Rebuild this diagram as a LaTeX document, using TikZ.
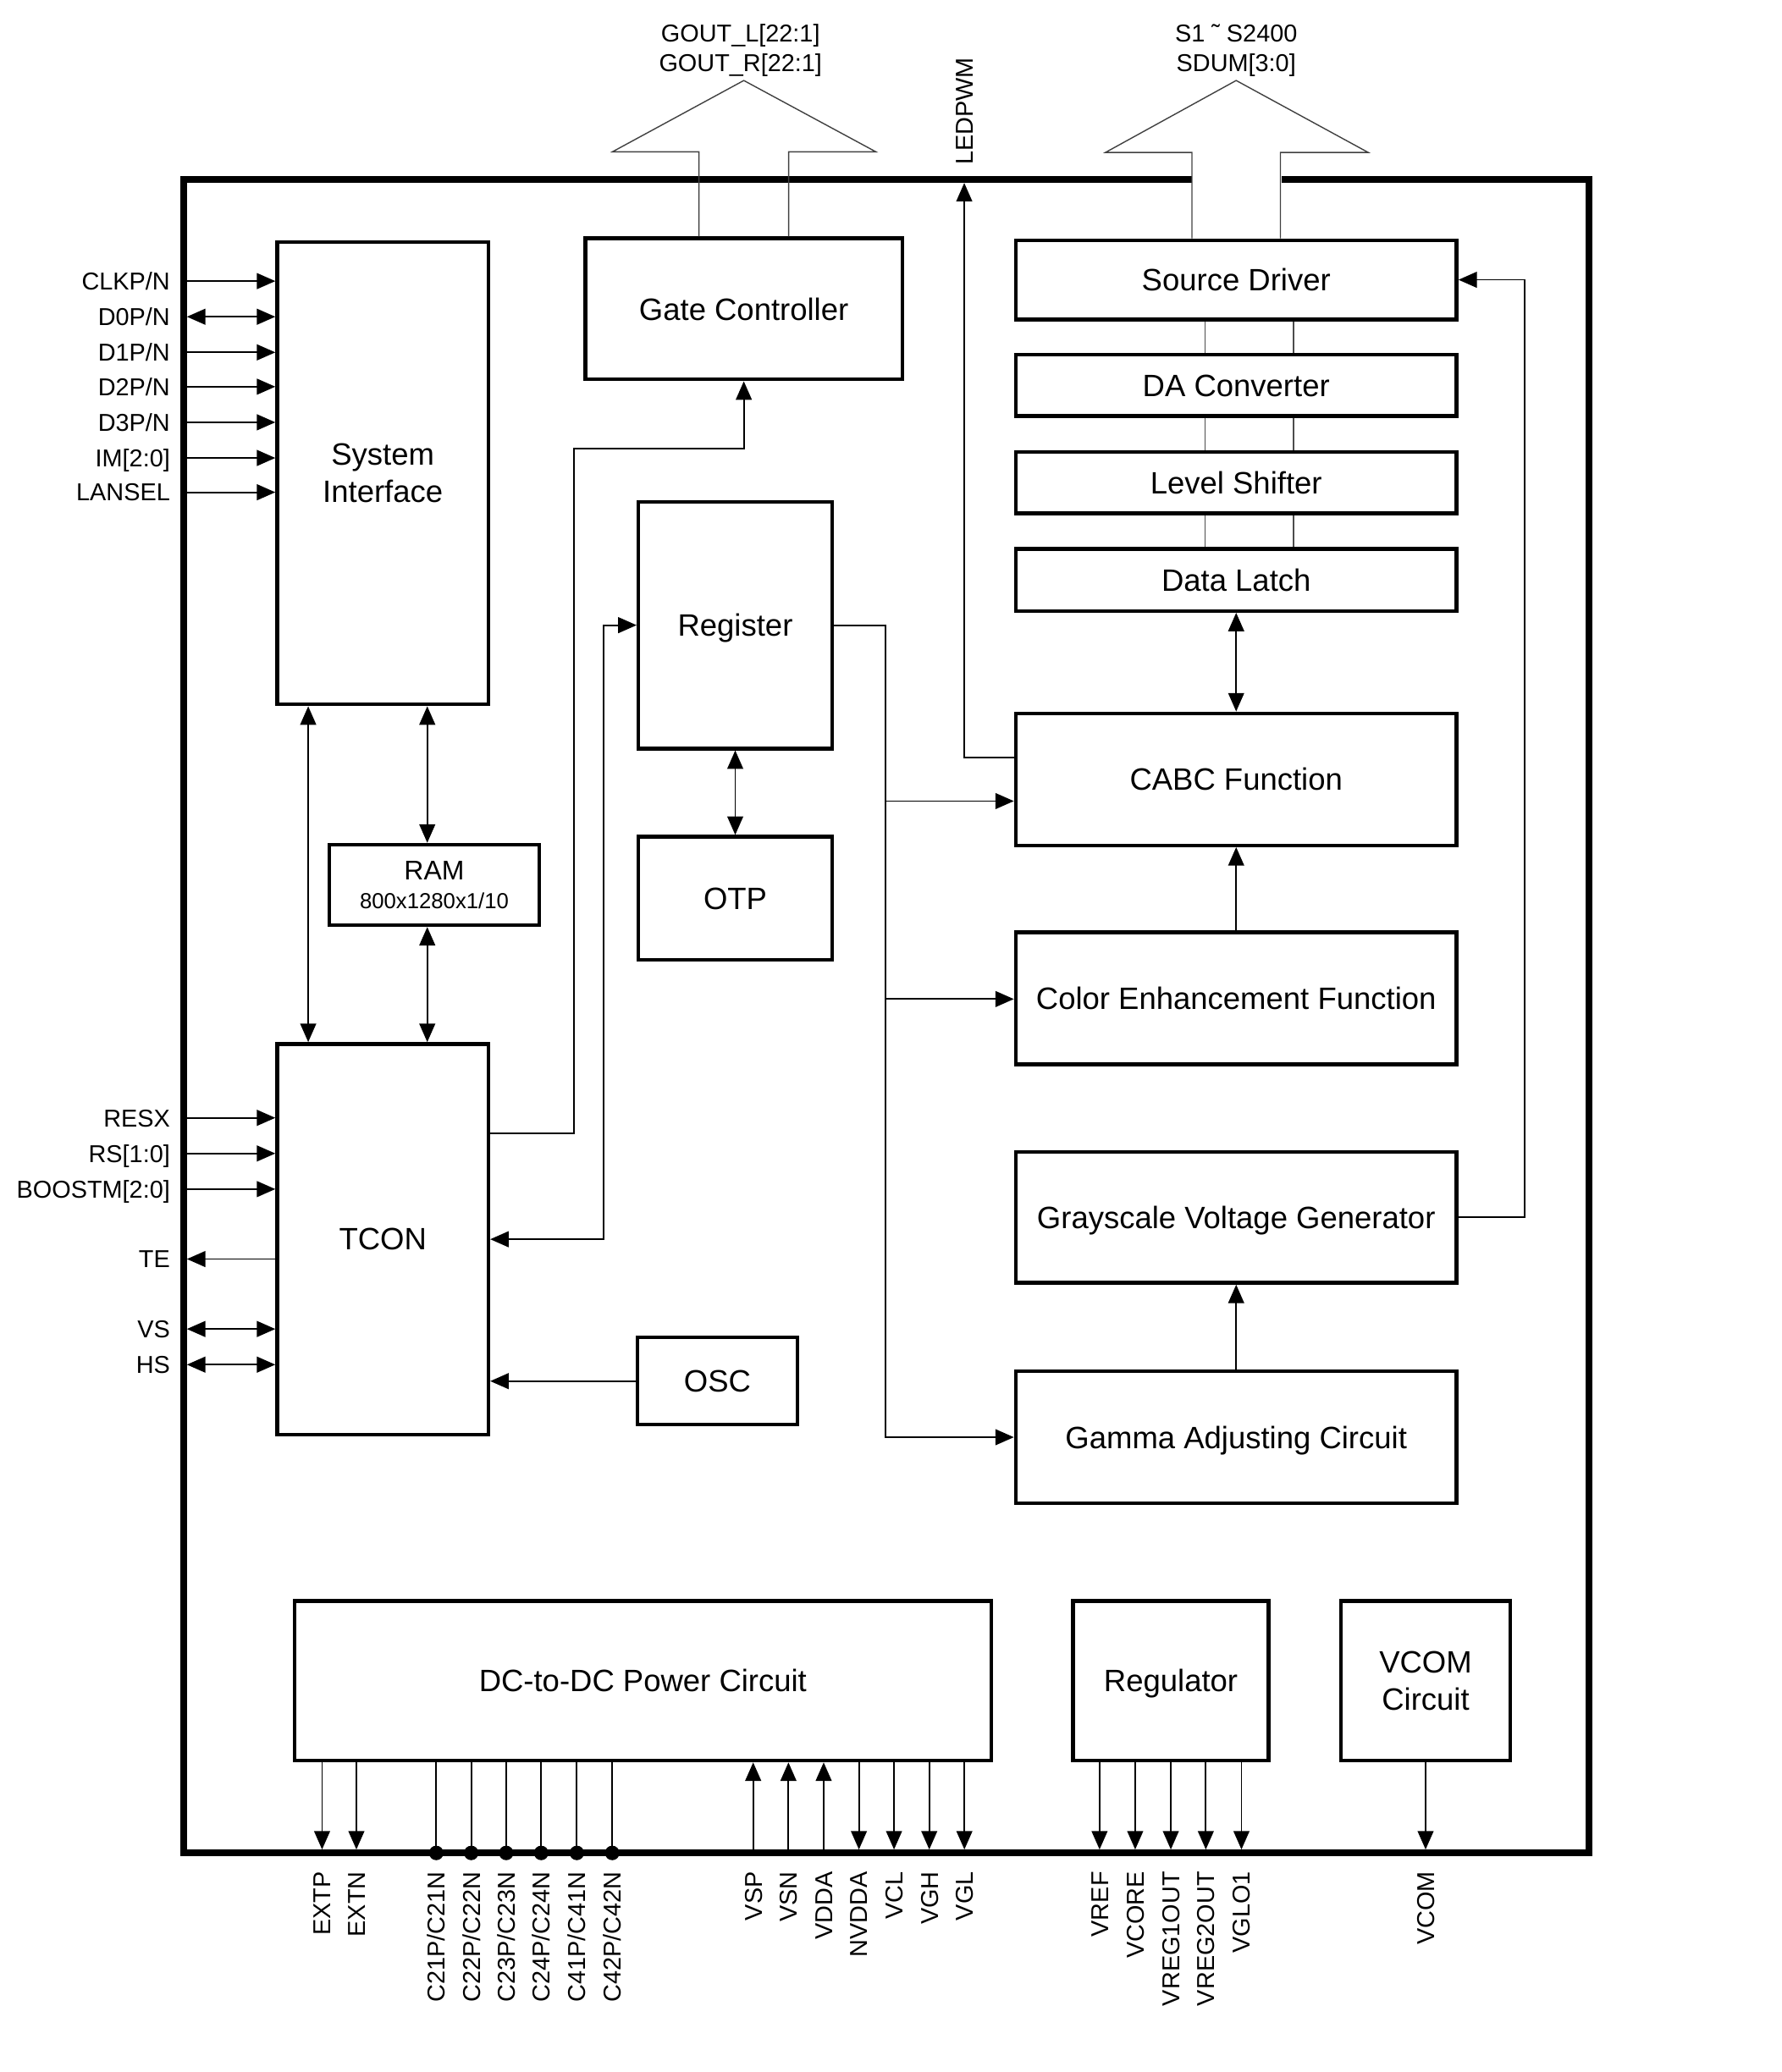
\documentclass[tikz,border=0pt]{standalone}
\usepackage{fontspec}
\setmainfont{Liberation Sans}
\usetikzlibrary{arrows.meta}
\newcommand{\BoxFont}{\fontsize{23.4pt}{28pt}\selectfont}
\newcommand{\PinFont}{\fontsize{18.5pt}{22.5pt}\selectfont}
\begin{document}
\begin{tikzpicture}[x=1pt,y=-1pt,
  box/.style={draw, line width=2.8pt, inner sep=0pt, align=center, font=\BoxFont},
  box1/.style={box, text depth=0pt},
  sig/.style={line width=1.2pt, -{Triangle[length=14pt,width=12pt]}},
  dsig/.style={line width=1.2pt, {Triangle[length=14pt,width=12pt]}-{Triangle[length=14pt,width=12pt]}},
  wire/.style={line width=1.2pt},
  thinl/.style={line width=0.8pt, draw=black!70},
  hollow/.style={line width=0.9pt, draw=black!75, line join=miter},
  lpin/.style={anchor=east, inner sep=0pt, font=\PinFont, text height=13.3pt, text depth=0pt},
  bpin/.style={rotate=90, anchor=east, inner sep=0pt, font=\PinFont, text height=13.3pt, text depth=0pt},
  tpin/.style={anchor=base, inner sep=0pt, font=\PinFont},
  dot/.style={fill=black}]
\useasboundingbox (0,0) rectangle (1350,1570);

% ---------- frame ----------
\draw[line width=5.3pt, line join=miter] (903,136) -- (139,136) -- (139,1404) -- (1204,1404) -- (1204,136) -- (971,136);

% ---------- blocks ----------
\node[box, minimum width=160pt, minimum height=350.5pt] (sysif) at (290,358.5) {System\\Interface};
\node[box1, minimum width=240pt, minimum height=107pt] (gate) at (563.5,234) {Gate Controller};
\node[box1, minimum width=334pt, minimum height=60pt] (src) at (936.5,212) {Source Driver};
\node[box1, minimum width=334pt, minimum height=46.5pt] (dac) at (936.5,292) {DA Converter};
\node[box1, minimum width=334pt, minimum height=46.5pt] (ls) at (936.5,365.8) {Level Shifter};
\node[box1, minimum width=334pt, minimum height=47pt] (dl) at (936.5,439.4) {Data Latch};
\node[box1, minimum width=334pt, minimum height=100pt] (cabc) at (936.5,590.5) {CABC Function};
\node[box1, minimum width=334pt, minimum height=100pt] (ce) at (936.5,756.5) {Color Enhancement Function};
\node[box1, minimum width=334pt, minimum height=99pt] (gvg) at (936.5,922.5) {Grayscale Voltage Generator};
\node[box1, minimum width=334pt, minimum height=100pt] (gac) at (936.5,1089) {Gamma Adjusting Circuit};
\node[box1, minimum width=146.6pt, minimum height=187pt] (reg) at (557,473.7) {Register};
\node[box1, minimum width=146.6pt, minimum height=93.4pt] (otp) at (557,680.7) {OTP};
\node[box, minimum width=159pt, minimum height=61pt, font=\fontsize{20.5pt}{21.6pt}\selectfont] (ram) at (329,670.5) {RAM\\{\fontsize{16.5pt}{21.6pt}\selectfont 800x1280x1/10}};
\node[box1, minimum width=160pt, minimum height=296pt] (tcon) at (290,939) {TCON};
\node[box1, minimum width=121pt, minimum height=66pt] (osc) at (543.5,1046.5) {OSC};
\node[box1, minimum width=528pt, minimum height=121pt] (dcdc) at (487,1273.5) {DC-to-DC Power Circuit};
\node[box1, minimum width=148pt, minimum height=121pt] (rgl) at (887,1273.5) {Regulator};
\node[box, minimum width=128pt, minimum height=121pt] (vcom) at (1080,1273.5) {VCOM\\Circuit};

% ---------- output bus arrows (hollow) ----------
\draw[hollow] ([xshift=-34pt]gate.north) -- (529.5,115) -- (464,115) -- (563.5,61) -- (663.5,115) -- (597.5,115) -- ([xshift=34pt]gate.north);
\draw[hollow] ([xshift=-33.5pt]src.north) -- (903,115.5) -- (837.5,115.5) -- (936.5,61) -- (1036.5,115.5) -- (970,115.5) -- ([xshift=33.5pt]src.north);
\node[tpin] (goutl) at (561,32) {GOUT\_L[22:1]};
\node[tpin] (goutr) at (561,54.5) {GOUT\_R[22:1]};
\node[tpin] (sout) at (936.5,32) {S1 ˜ S2400};
\node[tpin] (sdum) at (936.5,54.5) {SDUM[3:0]};

% source stack links
\foreach \a/\b in {src/dac, dac/ls, ls/dl} {
  \draw[thinl] (\a.south -| 913,0) -- (\b.north -| 913,0);
  \draw[thinl] (\a.south -| 980,0) -- (\b.north -| 980,0);
}

% ---------- LEDPWM ----------
\coordinate (pLED) at (730.5,138.6);
\node[rotate=90, anchor=west, inner sep=0pt, font=\PinFont, text height=13.3pt, text depth=0pt] (ledlbl) at (730.5,125) {LEDPWM};
\draw[sig] (cabc.west |- 0,574) -| (pLED);

% ---------- right column links ----------
\draw[dsig] (dl.south) -- (cabc.north);
\draw[sig] (ce.north) -- (cabc.south);
\draw[sig] (gac.north) -- (gvg.south);
\draw[sig] (gvg.east) -- (1155,922.5) |- (src.east);

% register bus
\draw[sig] (reg.east) -| (671,1089) -- (gac.west);
\draw[sig] (671,607) -- (cabc.west |- 0,607);
\draw[sig] (671,757) -- (ce.west |- 0,757);
\draw[dsig] (reg.south) -- (otp.north);

% system interface / RAM / TCON
\draw[dsig] (sysif.south -| 233.5,0) -- (tcon.north -| 233.5,0);
\draw[dsig] (sysif.south -| 323.7,0) -- (ram.north -| 323.7,0);
\draw[dsig] (ram.south -| 323.7,0) -- (tcon.north -| 323.7,0);
\draw[sig] (tcon.east |- 0,859) -| (434.6,340) -| (gate.south);
\draw[dsig] (tcon.east) -| (457.4,473.7) -- (reg.west);
\draw[sig] (osc.west) -- (tcon.east |- osc.west);

% ---------- left pins: system interface ----------
\coordinate (fCLK) at (139,213);   \node[lpin] (lCLK) at (129,213) {CLKP/N};
\coordinate (fD0) at (141.6,240);  \node[lpin] (lD0) at (129,240) {D0P/N};
\coordinate (fD1) at (139,267);    \node[lpin] (lD1) at (129,267) {D1P/N};
\coordinate (fD2) at (139,293);    \node[lpin] (lD2) at (129,293) {D2P/N};
\coordinate (fD3) at (139,320);    \node[lpin] (lD3) at (129,320) {D3P/N};
\coordinate (fIM) at (139,347);    \node[lpin] (lIM) at (129,347) {IM[2:0]};
\coordinate (fLAN) at (139,373);   \node[lpin] (lLAN) at (129,373) {LANSEL};
\draw[sig] (fCLK) -- (fCLK -| sysif.west);
\draw[dsig] (fD0) -- (fD0 -| sysif.west);
\draw[sig] (fD1) -- (fD1 -| sysif.west);
\draw[sig] (fD2) -- (fD2 -| sysif.west);
\draw[sig] (fD3) -- (fD3 -| sysif.west);
\draw[sig] (fIM) -- (fIM -| sysif.west);
\draw[sig] (fLAN) -- (fLAN -| sysif.west);

% ---------- left pins: TCON ----------
\coordinate (fRESX) at (139,847);  \node[lpin] (lRESX) at (129,847) {RESX};
\coordinate (fRS) at (139,874);    \node[lpin] (lRS) at (129,874) {RS[1:0]};
\coordinate (fBST) at (139,901);   \node[lpin] (lBST) at (129,901) {BOOSTM[2:0]};
\coordinate (fTE) at (141.6,954);  \node[lpin] (lTE) at (129,954) {TE};
\coordinate (fVS) at (141.6,1007); \node[lpin] (lVS) at (129,1007) {VS};
\coordinate (fHS) at (141.6,1034); \node[lpin] (lHS) at (129,1034) {HS};
\draw[sig] (fRESX) -- (fRESX -| tcon.west);
\draw[sig] (fRS) -- (fRS -| tcon.west);
\draw[sig] (fBST) -- (fBST -| tcon.west);
\draw[sig] (fTE -| tcon.west) -- (fTE);
\draw[dsig] (fVS) -- (fVS -| tcon.west);
\draw[dsig] (fHS) -- (fHS -| tcon.west);

% ---------- bottom pins: DC-DC ----------
\foreach \x/\t in {244/EXTP, 270/EXTN} {
  \coordinate (b\t) at (\x,1401.4);
  \draw[sig] (dcdc.south -| b\t) -- (b\t);
  \node[bpin] (l\t) at (\x,1418) {\t};
}
\foreach \x/\n/\t in {330.5/a/{C21P/C21N}, 357/b/{C22P/C22N}, 383.5/c/{C23P/C23N}, 410/d/{C24P/C24N}, 437/e/{C41P/C41N}, 463.8/f/{C42P/C42N}} {
  \coordinate (bc\n) at (\x,1404);
  \draw[wire] (dcdc.south -| bc\n) -- (bc\n);
  \fill[dot] (bc\n) circle (5.5pt);
  \node[bpin] (lc\n) at (\x,1418) {\t};
}
\foreach \x/\t in {570.6/VSP, 597.3/VSN, 624/VDDA} {
  \coordinate (b\t) at (\x,1404);
  \draw[sig] (b\t) -- (dcdc.south -| b\t);
  \node[bpin] (l\t) at (\x,1418) {\t};
}
\foreach \x/\t in {650.7/NVDDA, 677.3/VCL, 704/VGH, 730.6/VGL} {
  \coordinate (b\t) at (\x,1401.4);
  \draw[sig] (dcdc.south -| b\t) -- (b\t);
  \node[bpin] (l\t) at (\x,1418) {\t};
}
% regulator
\foreach \x/\t in {833/VREF, 860/VCORE, 887/VREG1OUT, 913.5/VREG2OUT, 940.5/VGLO1} {
  \coordinate (b\t) at (\x,1401.4);
  \draw[sig] (rgl.south -| b\t) -- (b\t);
  \node[bpin] (l\t) at (\x,1418) {\t};
}
% VCOM
\coordinate (bVCOM) at (1080,1401.4);
\draw[sig] (vcom.south) -- (bVCOM);
\node[bpin] (lVCOM) at (1080,1418) {VCOM};
\end{tikzpicture}
\end{document}
